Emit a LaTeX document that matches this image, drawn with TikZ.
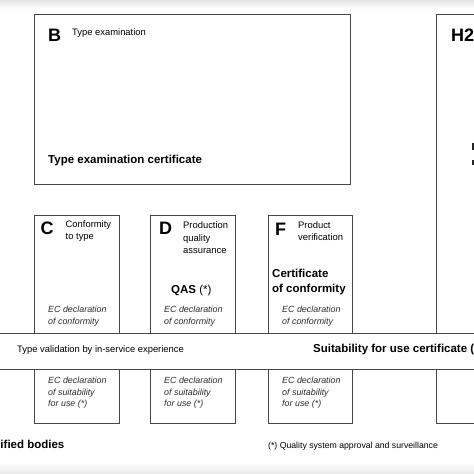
\documentclass[tikz,border=0pt]{standalone}
\usepackage{fontspec}
\setmainfont{Liberation Sans}
\begin{document}
\begin{tikzpicture}[x=1pt,y=-1pt,
  boxline/.style={draw=black!72, line width=0.85pt},
  letter/.style={font=\fontsize{18}{18}\selectfont\bfseries, inner sep=0, anchor=west},
  lbl/.style={font=\fontsize{9.4}{12}\selectfont, inner sep=0, anchor=west, align=left},
  ital/.style={font=\fontsize{8.9}{11.8}\selectfont\itshape, text=black!82, inner sep=0, anchor=west, align=left},
  bold/.style={font=\fontsize{11.5}{14.5}\selectfont\bfseries, inner sep=0, anchor=west, align=left},
  foot/.style={font=\fontsize{8.7}{11}\selectfont, inner sep=0, anchor=west}]
\useasboundingbox (0,0) rectangle (474,474);
\fill[white] (0,0) rectangle (474,474);
% top and bottom grey strips
\shade[top color=black!10, bottom color=white] (0,0) rectangle (474,9);
\shade[top color=white, bottom color=black!9] (0,462) rectangle (474,474);
% main boxes
\draw[boxline] (34,14) rectangle (350,184);
\draw[boxline] (480,14) -- (436,14) -- (436,333);
\draw[boxline] (34,215) rectangle (119,333);
\draw[boxline] (150.5,215) rectangle (235,333);
\draw[boxline] (268,215) rectangle (352,333);
% band
\draw[boxline] (0,333) -- (474,333);
\draw[boxline] (0,369) -- (474,369);
% lower boxes
\draw[boxline] (34,369) rectangle (119,423);
\draw[boxline] (150.5,369) rectangle (235,423);
\draw[boxline] (268,369) rectangle (352,423);
\draw[boxline] (436,369) -- (436,423) -- (480,423);
% B
\node[letter] (bL) at (48,35) {B};
\node[lbl] (bT) at (72,33) {Type examination};
\node[bold] (bC) at (48,161) {Type examination certificate};
% H2
\node[letter] (hL) at (451,35) {H2};
\fill[black!85] (471.5,143) rectangle (474,150);
\fill[black!85] (471.5,160) rectangle (474,165);
% C
\node[letter] (cL) at (40.5,228) {C};
\node[lbl] (cT) at (65.5,231) {Conformity\\to type};
\node[ital] (cE) at (48,316) {EC declaration\\of conformity};
% D
\node[letter] (dL) at (159,228) {D};
\node[lbl, font=\fontsize{9.4}{12.7}\selectfont] (dT) at (183,237.7) {Production\\quality\\assurance};
\node[bold] (dQ) at (171,291) {QAS \normalfont(*)};
\node[ital] (dE) at (164,316) {EC declaration\\of conformity};
% F
\node[letter] (fL) at (275,229) {F};
\node[lbl] (fT) at (298,231) {Product\\verification};
\node[bold] (fC) at (272,282) {Certificate\\of conformity};
\node[ital] (fE) at (282,316) {EC declaration\\of conformity};
% band texts
\node[lbl] (band1) at (17,350) {Type validation by in-service experience};
\node[bold] (band2) at (313,350) {Suitability for use certificate (};
% lower texts
\node[ital, font=\fontsize{8.9}{11.6}\selectfont\itshape] (cS) at (48,392.7) {EC declaration\\of suitability\\for use (*)};
\node[ital, font=\fontsize{8.9}{11.6}\selectfont\itshape] (dS) at (164,392.7) {EC declaration\\of suitability\\for use (*)};
\node[ital, font=\fontsize{8.9}{11.6}\selectfont\itshape] (fS) at (282,392.7) {EC declaration\\of suitability\\for use (*)};
% bottom texts
\node[bold] (nb) at (0.3,444) {ified bodies};
\node[foot] (fn) at (268,446) {(*) Quality system approval and surveillance};
\end{tikzpicture}
\end{document}
